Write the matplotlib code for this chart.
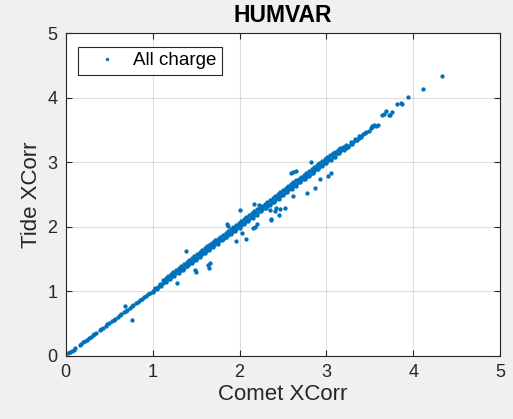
import matplotlib
matplotlib.use('Agg')
import matplotlib.pyplot as plt

plt.rcParams['font.family'] = ['Liberation Sans', 'DejaVu Sans']

# thin low part of the cloud (x < 1)
low_x = [0.03, 0.05, 0.07, 0.09, 0.11, 0.16, 0.18, 0.20, 0.22, 0.24, 0.27, 0.29, 0.31, 0.33, 0.35,
         0.39, 0.41, 0.43, 0.46, 0.48, 0.50, 0.53, 0.55, 0.57, 0.60, 0.62, 0.64, 0.67, 0.69, 0.71,
         0.74, 0.76, 0.78, 0.81, 0.83, 0.85, 0.88, 0.90, 0.92, 0.95, 0.97]
low_y = [0.04, 0.06, 0.08, 0.10, 0.12, 0.17, 0.19, 0.21, 0.23, 0.25, 0.28, 0.30, 0.32, 0.34, 0.36,
         0.40, 0.42, 0.44, 0.47, 0.49, 0.51, 0.54, 0.56, 0.58, 0.61, 0.63, 0.65, 0.68, 0.70, 0.72,
         0.75, 0.77, 0.79, 0.82, 0.84, 0.86, 0.89, 0.91, 0.93, 0.96, 0.98]

# dense band: centre line, lower edge, middle, upper edge
band_c_x = [1.00, 1.03, 1.06, 1.09, 1.12, 1.15, 1.18, 1.21, 1.24, 1.27, 1.30, 1.33, 1.36, 1.39, 1.42,
            1.45, 1.48, 1.51, 1.54, 1.57, 1.60, 1.63, 1.66, 1.69, 1.72, 1.75, 1.78, 1.81, 1.84, 1.87,
            1.90, 1.93, 1.96, 1.99, 2.02, 2.05, 2.08, 2.11, 2.14, 2.17, 2.20, 2.23, 2.26, 2.29, 2.32,
            2.35, 2.38, 2.41, 2.44, 2.47, 2.50, 2.53, 2.56, 2.59, 2.62, 2.65, 2.68, 2.71, 2.74, 2.77,
            2.80, 2.83, 2.86, 2.89, 2.92, 2.95, 2.98, 3.01, 3.04, 3.07, 3.10, 3.13, 3.16, 3.19, 3.22,
            3.25, 3.28, 3.31, 3.34, 3.37, 3.40]
band_c_y = [1.01, 1.04, 1.07, 1.10, 1.13, 1.16, 1.19, 1.22, 1.25, 1.28, 1.31, 1.34, 1.37, 1.40, 1.43,
            1.46, 1.49, 1.52, 1.55, 1.58, 1.61, 1.64, 1.67, 1.70, 1.73, 1.76, 1.79, 1.82, 1.85, 1.88,
            1.91, 1.94, 1.97, 2.00, 2.03, 2.06, 2.09, 2.12, 2.15, 2.18, 2.21, 2.24, 2.27, 2.30, 2.33,
            2.36, 2.39, 2.42, 2.45, 2.48, 2.51, 2.54, 2.57, 2.60, 2.63, 2.66, 2.69, 2.72, 2.75, 2.78,
            2.81, 2.84, 2.87, 2.90, 2.93, 2.96, 2.99, 3.02, 3.05, 3.08, 3.11, 3.14, 3.17, 3.20, 3.23,
            3.26, 3.29, 3.32, 3.35, 3.38, 3.41]
band_lo_x = [1.00, 1.05, 1.10, 1.15, 1.20, 1.25, 1.30, 1.35, 1.40, 1.45, 1.50, 1.55, 1.60, 1.65, 1.70,
             1.75, 1.80, 1.85, 1.90, 1.95, 2.00, 2.05, 2.10, 2.15, 2.20, 2.25, 2.30, 2.35, 2.40, 2.45,
             2.50, 2.55, 2.60, 2.65, 2.70, 2.75, 2.80, 2.85, 2.90, 2.95, 3.00, 3.05, 3.10, 3.15, 3.20,
             3.25, 3.30, 3.35, 3.40]
band_lo_y = [0.99, 1.04, 1.09, 1.14, 1.19, 1.24, 1.29, 1.34, 1.39, 1.44, 1.49, 1.54, 1.59, 1.64, 1.69,
             1.74, 1.79, 1.84, 1.89, 1.94, 1.99, 2.04, 2.09, 2.14, 2.19, 2.24, 2.29, 2.34, 2.39, 2.44,
             2.49, 2.54, 2.59, 2.64, 2.69, 2.74, 2.79, 2.84, 2.89, 2.94, 2.99, 3.04, 3.09, 3.14, 3.19,
             3.24, 3.29, 3.34, 3.39]
band_mid_x = [1.03, 1.08, 1.13, 1.18, 1.23, 1.28, 1.33, 1.38, 1.43, 1.48, 1.53, 1.58, 1.63, 1.68, 1.73,
              1.78, 1.83, 1.88, 1.93, 1.98, 2.03, 2.08, 2.13, 2.18, 2.23, 2.28, 2.33, 2.38, 2.43, 2.48,
              2.53, 2.58, 2.63, 2.68, 2.73, 2.78, 2.83, 2.88, 2.93, 2.98, 3.03, 3.08, 3.13, 3.18, 3.23,
              3.28, 3.33, 3.38]
band_mid_y = [1.06, 1.11, 1.16, 1.21, 1.26, 1.31, 1.36, 1.41, 1.46, 1.51, 1.56, 1.61, 1.66, 1.71, 1.76,
              1.81, 1.86, 1.91, 1.96, 2.01, 2.06, 2.11, 2.16, 2.21, 2.26, 2.31, 2.36, 2.41, 2.46, 2.51,
              2.56, 2.61, 2.66, 2.71, 2.76, 2.81, 2.86, 2.91, 2.96, 3.01, 3.06, 3.11, 3.16, 3.21, 3.26,
              3.31, 3.36, 3.41]
band_hi_x = [1.12, 1.15, 1.18, 1.21, 1.24, 1.27, 1.30, 1.33, 1.36, 1.39, 1.42, 1.45, 1.48, 1.51, 1.54,
             1.57, 1.60, 1.63, 1.66, 1.69, 1.72, 1.75, 1.78, 1.81, 1.84, 1.87, 1.90, 1.93, 1.96, 1.99,
             2.02, 2.05, 2.08, 2.11, 2.14, 2.17, 2.20, 2.23, 2.26, 2.29, 2.32, 2.35, 2.38, 2.41, 2.44,
             2.47, 2.50, 2.53, 2.56, 2.59, 2.62, 2.65, 2.68, 2.71, 2.74, 2.77, 2.80, 2.83, 2.86, 2.89,
             2.92, 2.95, 2.98, 3.01, 3.04, 3.07, 3.10, 3.13, 3.16, 3.19, 3.22]
band_hi_y = [1.18, 1.21, 1.24, 1.27, 1.30, 1.34, 1.37, 1.40, 1.43, 1.46, 1.49, 1.52, 1.55, 1.58, 1.61,
             1.64, 1.67, 1.70, 1.73, 1.76, 1.79, 1.82, 1.85, 1.88, 1.91, 1.94, 1.97, 2.00, 2.03, 2.06,
             2.09, 2.12, 2.15, 2.18, 2.21, 2.24, 2.27, 2.30, 2.33, 2.36, 2.39, 2.42, 2.45, 2.48, 2.51,
             2.54, 2.57, 2.60, 2.63, 2.66, 2.69, 2.72, 2.75, 2.78, 2.81, 2.84, 2.87, 2.90, 2.93, 2.96,
             2.99, 3.02, 3.05, 3.08, 3.11, 3.14, 3.16, 3.19, 3.22, 3.24, 3.27]

# sparse top end
tail_x = [3.42, 3.44, 3.46, 3.49, 3.51, 3.52, 3.53, 3.55, 3.57, 3.59, 3.64, 3.66, 3.69, 3.72, 3.73,
          3.76, 3.81, 3.86, 3.87, 3.94, 4.11, 4.33]
tail_y = [3.44, 3.46, 3.47, 3.48, 3.54, 3.57, 3.55, 3.58, 3.57, 3.58, 3.73, 3.75, 3.80, 3.73, 3.73,
          3.78, 3.91, 3.92, 3.90, 4.01, 4.13, 4.34]

# points off the diagonal
out_x = [0.76, 0.68, 1.28, 1.38, 1.49, 1.50, 1.64, 1.65, 1.66, 1.86, 1.87, 1.96, 2.07, 2.03, 2.01,
         2.18, 2.20, 2.16, 2.36, 2.17, 2.22, 2.52, 2.47, 2.42, 2.41, 2.45, 2.36, 2.35, 2.59, 2.62,
         2.65, 2.82, 2.61, 2.78, 2.87, 2.93, 3.02, 3.05]
out_y = [0.55, 0.77, 1.13, 1.63, 1.33, 1.30, 1.41, 1.37, 1.44, 2.05, 2.02, 1.78, 1.81, 1.90, 2.26,
         2.00, 2.04, 1.99, 2.11, 2.35, 2.34, 2.29, 2.27, 2.30, 2.24, 2.19, 2.13, 2.26, 2.84, 2.85,
         2.86, 3.00, 2.48, 2.53, 2.61, 2.75, 2.79, 2.84]

comet = low_x + band_c_x + band_lo_x + band_mid_x + band_hi_x + tail_x + out_x
tide = low_y + band_c_y + band_lo_y + band_mid_y + band_hi_y + tail_y + out_y

blue = '#0072BD'
dark = '#262626'

fig = plt.figure(figsize=(5.13, 4.19), dpi=100, facecolor='#f0f0f0')
ax = fig.add_axes([0.1281, 0.1504, 0.8470, 0.7701])

ax.plot(comet, tide, linestyle='none', marker='o', markersize=3.1,
        markeredgewidth=0, color=blue, label='All charge')

ax.set_xlim(0, 5)
ax.set_ylim(0, 5)
ax.set_xticks([0, 1, 2, 3, 4, 5])
ax.set_yticks([0, 1, 2, 3, 4, 5])
ax.grid(True, color=dark, alpha=0.15, linewidth=0.8)
ax.set_axisbelow(True)
for s in ax.spines.values():
    s.set_color(dark)
    s.set_linewidth(0.8)
ax.tick_params(direction='in', length=4, width=0.8, colors=dark, labelsize=13,
               top=True, right=True, labeltop=False, labelright=False, pad=6)

ax.set_xlabel('Comet XCorr', fontsize=16, color=dark, labelpad=2)
ax.set_ylabel('Tide XCorr', fontsize=16, color=dark, labelpad=4)
ax.set_title('HUMVAR', fontsize=16.5, fontweight='bold', pad=8)

leg = ax.legend(loc='upper left', bbox_to_anchor=(0.029, 0.9585), borderaxespad=0,
                fontsize=13.5, fancybox=False, framealpha=1, edgecolor=dark,
                handlelength=2.5, handletextpad=0.1, borderpad=0.3, markerscale=0.8)
leg.get_frame().set_linewidth(0.8)

fig.savefig('out.png', dpi=100, facecolor=fig.get_facecolor())
